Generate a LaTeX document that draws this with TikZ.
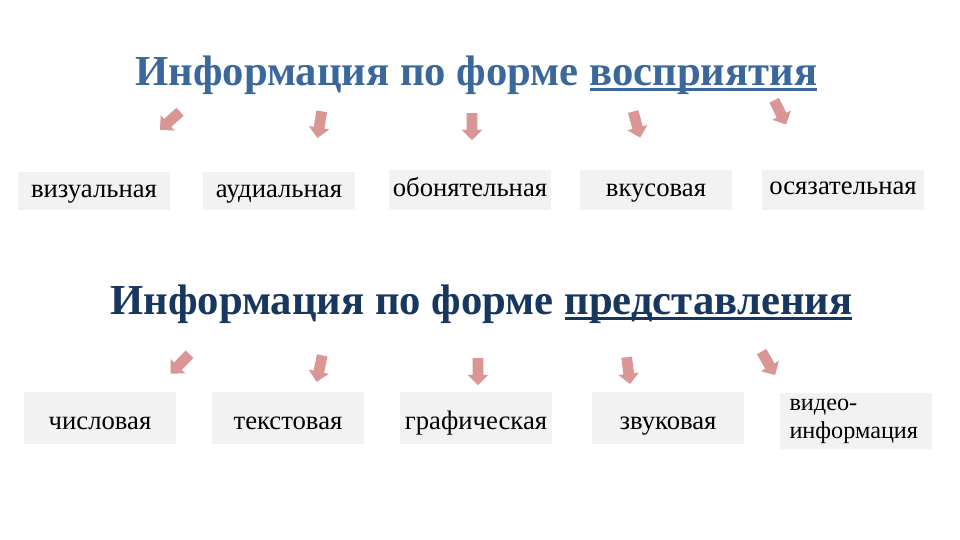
\documentclass[tikz,border=0pt]{standalone}
\usepackage{fontspec}
\setmainfont{Liberation Serif}
\usetikzlibrary{shapes.arrows}
\definecolor{titleblue}{HTML}{3A679C}
\definecolor{titlenavy}{HTML}{17375E}
\definecolor{boxgray}{HTML}{F2F2F2}
\definecolor{arrowpink}{HTML}{D99694}
\newcommand{\ulword}[2]{\setbox0\hbox{#2}\rlap{\rule[-#1]{\wd0}{1.3pt}}\box0}
\tikzset{
  heading/.style={anchor=base west,inner sep=0pt,font=\fontsize{24.3}{28}\selectfont\bfseries},
  kindbox/.style={fill=boxgray,inner sep=2pt,minimum width=3.04cm,font=\fontsize{15.2}{16}\selectfont},
  rowone/.style={minimum height=0.76cm,text height=0.32cm,text depth=0.06cm},
  rowtwo/.style={minimum height=1.06cm,text height=0.54cm,text depth=0.06cm},
  pointer/.style={single arrow,fill=arrowpink,draw=none,inner sep=0.1cm,
    minimum width=0.4cm,minimum height=0.54cm,single arrow head extend=0.1cm}
}
\begin{document}
\begin{tikzpicture}[x=0.02cm,y=-0.02cm]
	\useasboundingbox[fill=white] (0,0) rectangle (960,540);
	% perception
	\node[heading,text=titleblue](t1) at (135,86)
	{Информация по форме \ulword{2.6pt}{восприятия}};
	\node[pointer,rotate=-138](p1) at (172,119) {};
	\node[pointer,rotate=-99](p2) at (320,122) {};
	\node[pointer,rotate=-90](p3) at (472,124) {};
	\node[pointer,rotate=-75](p4) at (636,122) {};
	\node[pointer,rotate=-64](p5) at (779,110) {};
	\node[kindbox,rowone](k1) at (94,191) {визуальная};
	\node[kindbox,rowone](k2) at (279,191) {аудиальная};
	\node[kindbox,rowone,minimum height=0.8cm,minimum width=3.2cm](k3) at (470,190) {обонятельная};
	\node[kindbox,rowone,minimum height=0.8cm,minimum width=3.06cm](k4) at (656,190) {вкусовая};
	\node[kindbox,rowone,minimum height=0.8cm,minimum width=3.26cm,text depth=0.12cm](k5) at (843,190) {осязательная};
	% representation
	\node[heading,text=titlenavy](t2) at (110,315)
	{Информация по форме \ulword{2.6pt}{представления}};
	\node[pointer,rotate=-134](q1) at (182,362) {};
	\node[pointer,rotate=-102](q2) at (320,366) {};
	\node[pointer,rotate=-90](q3) at (478,369) {};
	\node[pointer,rotate=-83](q4) at (628,368) {};
	\node[pointer,rotate=-60](q5) at (767,361) {};
	\node[kindbox,rowtwo](r1) at (100,418) {числовая};
	\node[kindbox,rowtwo](r2) at (288,418) {текстовая};
	\node[kindbox,rowtwo](r3) at (476,418) {графическая};
	\node[kindbox,rowtwo](r4) at (668,418) {звуковая};
	\node[kindbox,minimum height=1.04cm,inner ysep=3pt,text width=2.66cm,align=left,
	  font=\fontsize{13.8}{16}\selectfont](r5) at (856,421) {видео-\\информация};
\end{tikzpicture}
\end{document}
